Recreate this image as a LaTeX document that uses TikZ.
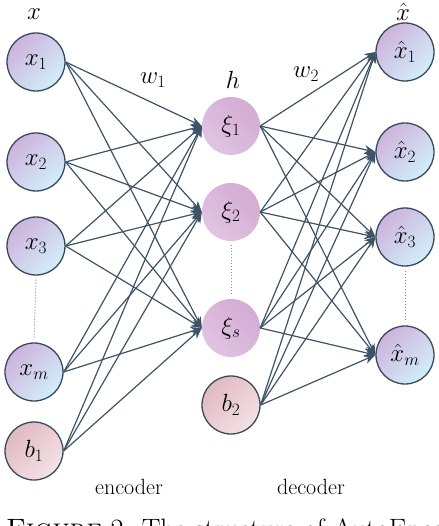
\documentclass[tikz,border=0pt]{standalone}
\usetikzlibrary{arrows.meta}
\definecolor{edgec}{HTML}{3E5366}
\definecolor{ringc}{HTML}{3A4A5A}
\definecolor{inpurple}{HTML}{CDB3DC}
\definecolor{inblue}{HTML}{D2EEFA}
\definecolor{hidA}{HTML}{D4ABD4}
\definecolor{hidB}{HTML}{E0C4E2}
\definecolor{biasA}{HTML}{E2B9C0}
\definecolor{biasB}{HTML}{F2E2E6}
\definecolor{dotc}{HTML}{8A8A8A}
\tikzset{
  unit/.style={circle, minimum size=58pt, inner sep=0pt, font=\fontsize{24}{28}\selectfont},
  innode/.style={unit, draw=ringc, line width=1.3pt, shading=axis, top color=inpurple, bottom color=inblue, shading angle=45},
  hidnode/.style={unit, shading=axis, top color=hidA, bottom color=hidB, shading angle=-45},
  biasnode/.style={unit, draw=ringc, line width=1.3pt, shading=axis, top color=biasA, bottom color=biasB, shading angle=45},
  conn/.style={draw=edgec, line width=1.2pt, -{Stealth[length=11pt,width=9pt]}},
  lbl/.style={inner sep=0pt, font=\fontsize{24}{28}\selectfont},
  txt/.style={inner sep=0pt, font=\fontsize{22}{26}\selectfont},
  dotline/.style={draw=dotc, line width=1pt, dotted}
}
\begin{document}
\begin{tikzpicture}[x=1pt,y=-1pt]
\useasboundingbox (0,0) rectangle (438,526);
\clip (0,0) rectangle (438,526);
% input layer
\node[innode] (x1) at (36,62) {$x_1$};
\node[innode] (x2) at (36,162) {$x_2$};
\node[innode] (x3) at (36,246) {$x_3$};
\node[innode] (xm) at (34,372) {$x_m$};
\node[biasnode] (b1) at (34,451) {$b_1$};
% hidden layer
\node[hidnode] (h1) at (231,126) {$\xi_1$};
\node[hidnode] (h2) at (231,212) {$\xi_2$};
\node[hidnode] (hs) at (231,328) {$\xi_s$};
\node[biasnode] (b2) at (231,405) {$b_2$};
% output layer
\node[innode] (y1) at (405,52) {$\hat{x}_1$};
\node[innode] (y2) at (405,152) {$\hat{x}_2$};
\node[innode] (y3) at (405,237) {$\hat{x}_3$};
\node[innode] (ym) at (405,355) {$\hat{x}_m$};
% dots
\draw[dotline] ([yshift=-4pt]x3.south) -- ([yshift=4pt]xm.north);
\draw[dotline] ([yshift=-4pt]h2.south) -- ([yshift=4pt]hs.north);
\draw[dotline] ([yshift=-4pt]y3.south) -- ([yshift=4pt]ym.north);
% encoder connections
\foreach \s in {x1,x2,x3,xm,b1}
  \foreach \t in {h1,h2,hs}
    \draw[conn] (\s.east) -- (\t.west);
% decoder connections
\foreach \s in {h1,h2,hs,b2}
  \foreach \t in {y1,y2,y3,ym}
    \draw[conn] (\s.east) -- (\t.west);
% labels
\node[lbl] (lx) at (34,14) {$x$};
\node[lbl] (lh) at (233,80) {$h$};
\node[lbl] (lxh) at (403,12) {$\hat{x}$};
\node[lbl] (lw1) at (153,80) {$w_1$};
\node[lbl] (lw2) at (306,74) {$w_2$};
\node[txt] (enc) at (129,487) {encoder};
\node[txt] (dec) at (311,487) {decoder};
\node[anchor=base west, inner sep=0pt, font=\fontsize{28}{32}\selectfont] (cap) at (6,538) {\textsc{Figure} 2: The structure of AutoEncoder};
\end{tikzpicture}
\end{document}
